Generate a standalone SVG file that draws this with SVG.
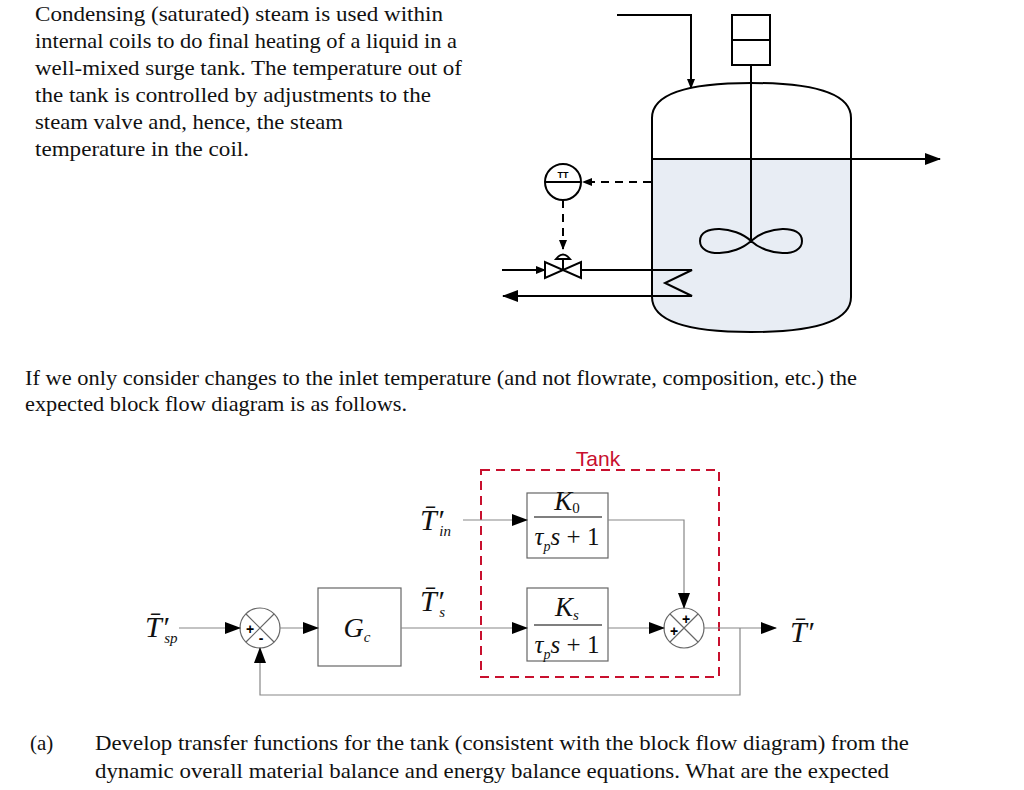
<svg xmlns="http://www.w3.org/2000/svg" width="1024" height="790" viewBox="0 0 1024 790">
<style>
.t{font-family:"Liberation Serif",serif;font-size:21px;fill:#111}
.m{font-family:"Liberation Serif",serif;font-style:italic;fill:#111}
.ln{stroke:#000;stroke-width:2;fill:none}
.g{stroke:#888;stroke-width:1.2;fill:none}
.bx{stroke:#666;stroke-width:1.2;fill:#fff}
</style>
<defs>
<marker id="a" markerWidth="10" markerHeight="8" refX="9" refY="4" orient="auto" markerUnits="userSpaceOnUse"><path d="M0,0L10,4L0,8z" fill="#000"/></marker>
<marker id="b" markerWidth="16" markerHeight="12" refX="15" refY="6" orient="auto" markerUnits="userSpaceOnUse"><path d="M0,0L16,6L0,12z" fill="#000"/></marker>
</defs>
<g id="text-top">
<text class="t" x="35" y="21" textLength="408" lengthAdjust="spacingAndGlyphs">Condensing (saturated) steam is used within</text>
<text class="t" x="35" y="48" textLength="422" lengthAdjust="spacingAndGlyphs">internal coils to do final heating of a liquid in a</text>
<text class="t" x="35" y="75" textLength="427" lengthAdjust="spacingAndGlyphs">well-mixed surge tank. The temperature out of</text>
<text class="t" x="35" y="102" textLength="396" lengthAdjust="spacingAndGlyphs">the tank is controlled by adjustments to the</text>
<text class="t" x="35" y="129" textLength="308" lengthAdjust="spacingAndGlyphs">steam valve and, hence, the steam</text>
<text class="t" x="35" y="156" textLength="214" lengthAdjust="spacingAndGlyphs">temperature in the coil.</text>
<text class="t" x="25" y="385" textLength="832" lengthAdjust="spacingAndGlyphs">If we only consider changes to the inlet temperature (and not flowrate, composition, etc.) the</text>
<text class="t" x="25" y="411" textLength="382" lengthAdjust="spacingAndGlyphs">expected block flow diagram is as follows.</text>
<text class="t" x="30" y="750">(a)</text>
<text class="t" x="95" y="750" textLength="814" lengthAdjust="spacingAndGlyphs">Develop transfer functions for the tank (consistent with the block flow diagram) from the</text>
<text class="t" x="95" y="778" textLength="794" lengthAdjust="spacingAndGlyphs">dynamic overall material balance and energy balance equations. What are the expected</text>
</g>
<g id="tank">
<path d="M652,159 L851,159 L851,297 Q851,332 751,332 Q652,332 652,297 Z" fill="#e8edf4"/>
<path class="ln" d="M652,297 L652,118 Q652,83 751,83 Q851,83 851,118 L851,297 Q851,332 751,332 Q652,332 652,297 Z"/>
<line class="ln" x1="652" y1="159" x2="851" y2="159"/>
</g>
<g id="motor">
<rect class="ln" x="732" y="15" width="38" height="50"/>
<line class="ln" x1="732" y1="40" x2="770" y2="40"/>
<line class="ln" x1="751" y1="65" x2="751" y2="241"/>
<path class="ln" d="M751,241 C735,226 700,224 700,241 C700,258 735,256 751,241 C767,226 802,224 802,241 C802,258 767,256 751,241 Z"/>
</g>
<g id="TT">
<circle class="ln" cx="563" cy="182" r="18" fill="#fff"/>
<line class="ln" x1="545" y1="182" x2="581" y2="182"/>
<text x="563" y="178" font-family="Liberation Sans,sans-serif" font-size="9" font-weight="bold" text-anchor="middle">TT</text>
</g>
<g id="valve">
<path class="ln" d="M545,262 L545,278 L581,262 L581,278 Z"/>
<path class="ln" d="M556,259 Q563,250 570,259 Z"/>
<line class="ln" x1="563" y1="259" x2="563" y2="270"/>
</g>
<g id="pid-connectors">
<polyline class="ln" points="617,15 691,15 691,88" marker-end="url(#a)"/>
<line class="ln" x1="851" y1="159" x2="940" y2="159" marker-end="url(#b)"/>
<line class="ln" x1="651" y1="182" x2="583" y2="182" stroke-dasharray="8,6" marker-end="url(#a)"/>
<line class="ln" x1="563" y1="200" x2="563" y2="249" stroke-dasharray="8,6" marker-end="url(#a)"/>
<line class="ln" x1="502" y1="270" x2="545" y2="270" marker-end="url(#a)"/>
<polyline class="ln" points="581,270 692,270 665,283 692,296 503,296" marker-end="url(#b)"/>
</g>
<g id="tank-box">
<rect x="481" y="470" width="238" height="207" fill="none" stroke="#c8102e" stroke-width="2" stroke-dasharray="9,6"/>
<text x="598" y="466" font-family="Liberation Sans,sans-serif" font-size="21" fill="#c8102e" text-anchor="middle">Tank</text>
</g>
<g id="K0">
<rect class="bx" x="527" y="493" width="81" height="65"/>
<line x1="534" y1="517" x2="602" y2="517" stroke="#000" stroke-width="1.2"/>
<text class="m" x="567" y="510" font-size="27" text-anchor="middle">K<tspan font-style="normal" font-size="15" dy="3">0</tspan></text>
<text class="m" x="567" y="545" font-size="25" text-anchor="middle">τ<tspan font-size="14" dy="6">p</tspan><tspan dy="-6">s</tspan><tspan font-style="normal"> + 1</tspan></text>
</g>
<g id="Ks">
<rect class="bx" x="527" y="588" width="81" height="73"/>
<line x1="534" y1="625" x2="602" y2="625" stroke="#000" stroke-width="1.2"/>
<text class="m" x="567" y="616" font-size="27" text-anchor="middle">K<tspan font-size="15" dy="4">s</tspan></text>
<text class="m" x="567" y="653" font-size="25" text-anchor="middle">τ<tspan font-size="14" dy="6">p</tspan><tspan dy="-6">s</tspan><tspan font-style="normal"> + 1</tspan></text>
</g>
<g id="Gc">
<rect class="bx" x="318" y="588" width="83" height="78"/>
<text class="m" x="357" y="637" font-size="28" text-anchor="middle">G<tspan font-size="15" dy="5">c</tspan></text>
</g>
<g id="sum1">
<circle cx="260" cy="628" r="20" fill="#fff" stroke="#666" stroke-width="1.2"/>
<path d="M246,614L274,642M274,614L246,642" stroke="#666" stroke-width="1.2"/>
<text x="250" y="634" font-family="Liberation Sans,sans-serif" font-size="14" font-weight="bold" text-anchor="middle">+</text>
<text x="261" y="643" font-family="Liberation Sans,sans-serif" font-size="14" font-weight="bold" text-anchor="middle">-</text>
</g>
<g id="sum2">
<circle cx="684" cy="628" r="20" fill="#fff" stroke="#666" stroke-width="1.2"/>
<path d="M670,614L698,642M698,614L670,642" stroke="#666" stroke-width="1.2"/>
<text x="686" y="624" font-family="Liberation Sans,sans-serif" font-size="14" font-weight="bold" text-anchor="middle">+</text>
<text x="674" y="636" font-family="Liberation Sans,sans-serif" font-size="14" font-weight="bold" text-anchor="middle">+</text>
</g>
<g id="labels">
<text class="m" x="145" y="637" font-size="30">T̄′<tspan font-size="15" dy="6" dx="-4">sp</tspan></text>
<text class="m" x="420" y="530" font-size="30">T̄′<tspan font-size="15" dy="6" dx="-4">in</tspan></text>
<text class="m" x="420" y="611" font-size="30">T̄′<tspan font-size="15" dy="6" dx="-4">s</tspan></text>
<text class="m" x="790" y="642" font-size="30">T̄′</text>
</g>
<g id="connectors">
<line class="g" x1="179" y1="628" x2="240" y2="628" marker-end="url(#b)"/>
<line class="g" x1="280" y1="628" x2="318" y2="628" marker-end="url(#b)"/>
<line class="g" x1="401" y1="628" x2="527" y2="628" marker-end="url(#b)"/>
<line class="g" x1="463" y1="520" x2="527" y2="520" marker-end="url(#b)"/>
<line class="g" x1="608" y1="628" x2="664" y2="628" marker-end="url(#b)"/>
<polyline class="g" points="608,520 684,520 684,608" marker-end="url(#b)"/>
<line class="g" x1="704" y1="628" x2="776" y2="628" marker-end="url(#b)"/>
<polyline class="g" points="740,628 740,695 260,695 260,648" marker-end="url(#b)"/>
</g>
</svg>
